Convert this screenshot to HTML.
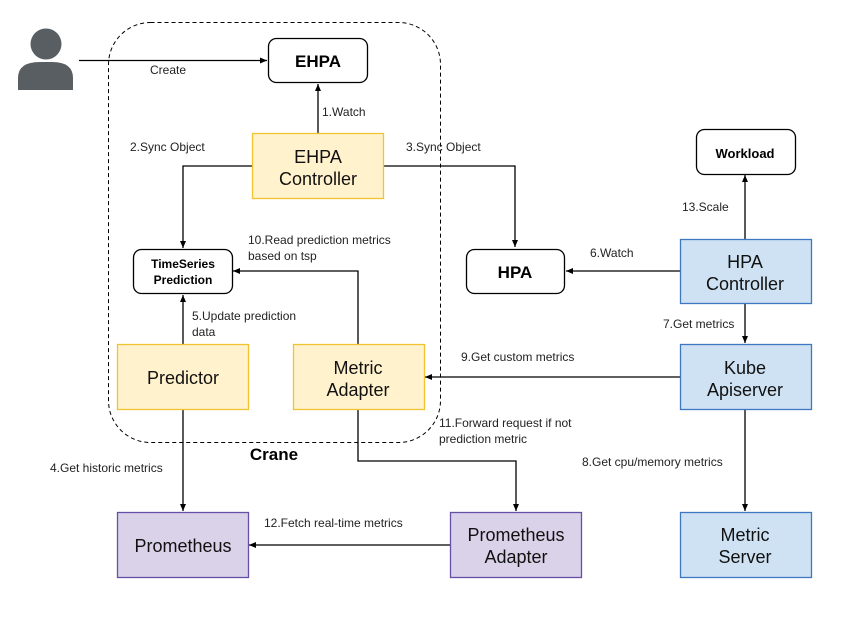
<!DOCTYPE html>
<html><head><meta charset="utf-8"><style>
html,body{margin:0;padding:0;background:#fff}
svg{display:block;font-family:"Liberation Sans",Arial,sans-serif}
.s{font-size:12px;fill:#222}
.b{font-size:18px;fill:#111}
</style></head><body>
<svg width="864" height="620" viewBox="0 0 864 620" xmlns="http://www.w3.org/2000/svg">
<defs><marker id="a" markerWidth="8" markerHeight="8" refX="7" refY="4" orient="auto" markerUnits="userSpaceOnUse"><path d="M0,1 L7,4 L0,7 z" fill="#000"/></marker></defs>
<rect width="864" height="620" fill="#fff"/>
<!-- person -->
<circle cx="46" cy="44" r="15.5" fill="#595e63"/>
<path d="M18,90 L18,78 Q18,62 40,62 L52,62 Q73,62 73,78 L73,90 Z" fill="#595e63"/>
<!-- container -->
<rect x="108.5" y="22.5" width="332" height="420" rx="42" fill="none" stroke="#000" stroke-dasharray="4,3"/>
<g fill="none" stroke="#000" stroke-width="1.3">
<line x1="79" y1="60.5" x2="267" y2="60.5" marker-end="url(#a)"/>
<line x1="318" y1="133" x2="318" y2="84" marker-end="url(#a)"/>
<polyline points="252,166 183,166 183,248" marker-end="url(#a)"/>
<polyline points="383,166 515,166 515,247" marker-end="url(#a)"/>
<polyline points="358,344 358,271 233,271" marker-end="url(#a)"/>
<line x1="183" y1="344" x2="183" y2="295" marker-end="url(#a)"/>
<line x1="680" y1="271" x2="566" y2="271" marker-end="url(#a)"/>
<line x1="745" y1="239" x2="745" y2="175" marker-end="url(#a)"/>
<line x1="745" y1="303" x2="745" y2="343" marker-end="url(#a)"/>
<line x1="680" y1="377" x2="425" y2="377" marker-end="url(#a)"/>
<polyline points="358,409 358,461 516,461 516,511" marker-end="url(#a)"/>
<line x1="183" y1="409" x2="183" y2="511" marker-end="url(#a)"/>
<line x1="745" y1="409" x2="745" y2="511" marker-end="url(#a)"/>
<line x1="450" y1="545" x2="249" y2="545" marker-end="url(#a)"/>
</g>
<!-- white boxes -->
<g fill="#fff" stroke="#000" stroke-width="1.3">
<rect x="268.5" y="38.5" width="99" height="44" rx="8"/>
<rect x="133.5" y="249.5" width="99" height="44" rx="8"/>
<rect x="466.5" y="249.5" width="98" height="44" rx="8"/>
<rect x="696.5" y="129.5" width="99" height="45" rx="8"/>
</g>
<g fill="#fff2cc" stroke="#f1c232" stroke-width="1.3">
<rect x="252.5" y="133.5" width="131" height="65"/>
<rect x="117.5" y="344.5" width="131" height="65"/>
<rect x="293.5" y="344.5" width="131" height="65"/>
</g>
<g fill="#cfe2f3" stroke="#3d78c0" stroke-width="1.3">
<rect x="680.5" y="239.5" width="131" height="64"/>
<rect x="680.5" y="344.5" width="131" height="65"/>
<rect x="680.5" y="512.5" width="131" height="65"/>
</g>
<g fill="#d9d2e9" stroke="#674ea7" stroke-width="1.3">
<rect x="117.5" y="512.5" width="131" height="65"/>
<rect x="450.5" y="512.5" width="131" height="65"/>
</g>
<!-- box text -->
<g text-anchor="middle">
<text x="318" y="67" font-size="17" font-weight="bold">EHPA</text>
<text x="183" y="268" font-size="12" font-weight="bold">TimeSeries</text>
<text x="183" y="284" font-size="12" font-weight="bold">Prediction</text>
<text x="515" y="278" font-size="17" font-weight="bold">HPA</text>
<text x="745" y="158" font-size="13" font-weight="bold">Workload</text>
<text x="318" y="163" class="b">EHPA</text>
<text x="318" y="185" class="b">Controller</text>
<text x="183" y="384" class="b">Predictor</text>
<text x="358" y="374" class="b">Metric</text>
<text x="358" y="396" class="b">Adapter</text>
<text x="745" y="268" class="b">HPA</text>
<text x="745" y="290" class="b">Controller</text>
<text x="745" y="374" class="b">Kube</text>
<text x="745" y="396" class="b">Apiserver</text>
<text x="745" y="541" class="b">Metric</text>
<text x="745" y="563" class="b">Server</text>
<text x="183" y="552" class="b">Prometheus</text>
<text x="516" y="541" class="b">Prometheus</text>
<text x="516" y="563" class="b">Adapter</text>
<text x="274" y="460" font-size="17" font-weight="bold">Crane</text>
</g>
<g class="s">
<text x="150" y="74" class="s">Create</text>
<text x="322" y="116" class="s">1.Watch</text>
<text x="130" y="151" class="s">2.Sync Object</text>
<text x="406" y="151" class="s">3.Sync Object</text>
<text x="248" y="244" class="s">10.Read prediction metrics</text>
<text x="248" y="260" class="s">based on tsp</text>
<text x="590" y="257" class="s">6.Watch</text>
<text x="682" y="211" class="s">13.Scale</text>
<text x="663" y="328" class="s">7.Get metrics</text>
<text x="192" y="320" class="s">5.Update prediction</text>
<text x="192" y="336" class="s">data</text>
<text x="461" y="361" class="s">9.Get custom metrics</text>
<text x="439" y="427" class="s">11.Forward request if not</text>
<text x="439" y="443" class="s">prediction metric</text>
<text x="50" y="472" class="s">4.Get historic metrics</text>
<text x="582" y="466" class="s">8.Get cpu/memory metrics</text>
<text x="264" y="527" class="s">12.Fetch real-time metrics</text>
</g>
</svg>
</body></html>
